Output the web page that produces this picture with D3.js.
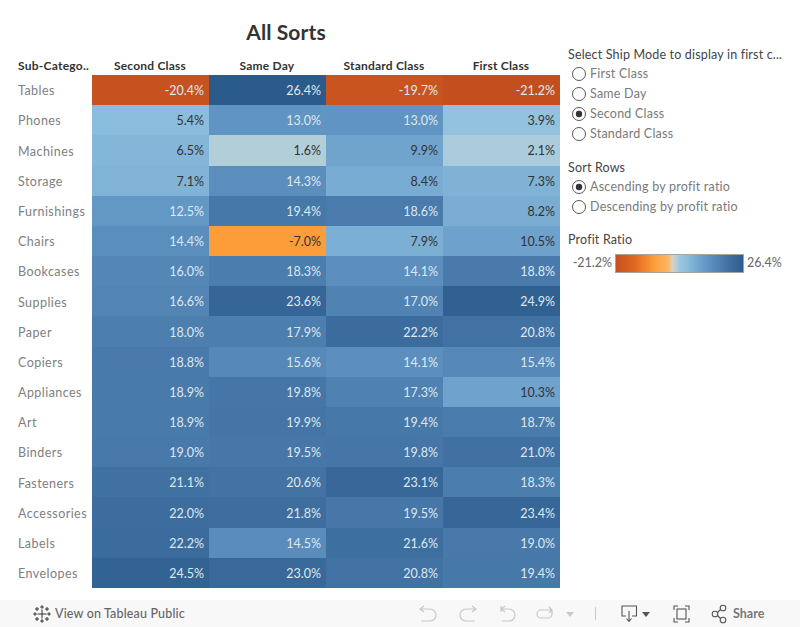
<!DOCTYPE html>
<html><head><meta charset="utf-8">
<script src="https://cdn.jsdelivr.net/npm/d3@7"></script>
<style>html,body{margin:0;padding:0;background:#fff;overflow:hidden}svg{display:block}text{font-family:Lato,"Open Sans",sans-serif}</style>
</head><body><svg id="c" width="800" height="627"></svg>
<script>
const title = "All Sorts";
const rowHeader = "Sub-Catego..";
const categories = ["Tables","Phones","Machines","Storage","Furnishings","Chairs","Bookcases","Supplies","Paper","Copiers","Appliances","Art","Binders","Fasteners","Accessories","Labels","Envelopes"];
const shipModes = ["Second Class","Same Day","Standard Class","First Class"];
const secondClass = [-20.4,5.4,6.5,7.1,12.5,14.4,16.0,16.6,18.0,18.8,18.9,18.9,19.0,21.1,22.0,22.2,24.5];
const sameDay = [26.4,13.0,1.6,14.3,19.4,-7.0,18.3,23.6,17.9,15.6,19.8,19.9,19.5,20.6,21.8,14.5,23.0];
const standardClass = [-19.7,13.0,9.9,8.4,18.6,7.9,14.1,17.0,22.2,14.1,17.3,19.4,19.8,23.1,19.5,21.6,20.8];
const firstClass = [-21.2,3.9,2.1,7.3,8.2,10.5,18.8,24.9,20.8,15.4,10.3,18.7,21.0,18.3,23.4,19.0,19.4];
const seriesValues = [secondClass,sameDay,standardClass,firstClass];
const colorDomain = [-21.2,-14,-7,-1.5,0,1.6,3,5.4,13,20,26.4];
const colorRange = ["#c34f1f","#e0681f","#fd9d3a","#fbb766","#d8d2c4","#b2ced9","#98c5df","#8abcdd","#6094c2","#4475a6","#2a5b8b"];
const shipOptions = ["First Class","Same Day","Second Class","Standard Class"];
const shipSelected = "Second Class";
const sortOptions = ["Ascending by profit ratio","Descending by profit ratio"];
const sortSelected = "Ascending by profit ratio";
const legendExtent = [-21.2,26.4];

const svg = d3.select("#c");
const x = d3.scaleBand().domain(shipModes).range([92,560]);
const y = d3.scaleBand().domain(categories).range([75,588]);
const color = d3.scaleLinear().domain(colorDomain).range(colorRange).interpolate(d3.interpolateRgb);
const fmt = v => v.toFixed(1) + "%";

svg.append("text").attr("x",286).attr("y",40).attr("text-anchor","middle")
  .attr("font-size",21).attr("font-weight",700).attr("letter-spacing",0.1).attr("fill","#333").text(title);
svg.append("text").attr("x",18).attr("y",70).attr("font-size",12).attr("font-weight",700).attr("letter-spacing",0.25).attr("fill","#333").text(rowHeader);

svg.selectAll(".h").data(shipModes).join("text").attr("class","h")
  .attr("x",d=>x(d)+x.bandwidth()/2-0.5).attr("y",70).attr("text-anchor","middle")
  .attr("font-size",12).attr("font-weight",700).attr("letter-spacing",0.2).attr("fill","#333").text(d=>d);
svg.selectAll(".r").data(categories).join("text").attr("class","r")
  .attr("x",18).attr("y",d=>y(d)+y.bandwidth()/2+5.2).attr("font-size",12.5).attr("letter-spacing",0.45).attr("fill","#808080").text(d=>d);

const cells = shipModes.flatMap((m,i)=>categories.map((c,j)=>({m,c,v:seriesValues[i][j]})));
svg.selectAll(".cell").data(cells).join("rect").attr("class","cell")
  .attr("x",d=>x(d.m)).attr("y",d=>y(d.c)).attr("width",x.bandwidth()).attr("height",y.bandwidth())
  .attr("fill",d=>color(d.v)).attr("shape-rendering","crispEdges");
svg.selectAll(".val").data(cells).join("text").attr("class","val")
  .attr("x",d=>x(d.m)+x.bandwidth()-5).attr("y",d=>y(d.c)+y.bandwidth()/2+5).attr("text-anchor","end")
  .attr("font-size",12.5).attr("fill",d=>(d.v>=12||d.v<-10)?"#dfe8f1":"#333").text(d=>fmt(d.v));

function radios(opts,sel,y0,step){
  const g = svg.append("g");
  opts.forEach((o,i)=>{
    const yy=y0+i*step;
    g.append("circle").attr("cx",579).attr("cy",yy).attr("r",6.5).attr("fill","#fff").attr("stroke","#444").attr("stroke-width",0.9);
    if(o===sel) g.append("circle").attr("cx",579).attr("cy",yy).attr("r",3.2).attr("fill","#333");
    g.append("text").attr("x",590).attr("y",yy+4.3).attr("font-size",12.5).attr("letter-spacing",0.22).attr("fill","#7a7a7a").text(o);
  });
}
const lab=(t,yy)=>svg.append("text").attr("x",568).attr("y",yy).attr("font-size",12.5).attr("letter-spacing",0.17).attr("fill","#444").text(t);
lab("Select Ship Mode to display in first c...",58.5);
radios(shipOptions,shipSelected,74,20);
lab("Sort Rows",171.5);
radios(sortOptions,sortSelected,187,20);
lab("Profit Ratio",243.5);

const lx = d3.scaleLinear().domain(legendExtent).range([616,743]);
const defs = svg.append("defs");
const grad = defs.append("linearGradient").attr("id","lg");
grad.selectAll("stop").data(colorDomain).join("stop")
  .attr("offset",d=>(lx(d)-616)/127).attr("stop-color",d=>color(d));
svg.append("rect").attr("x",615.5).attr("y",254.5).attr("width",128).attr("height",18)
  .attr("fill","url(#lg)").attr("stroke","#aaa39a");
svg.append("text").attr("x",612).attr("y",267).attr("text-anchor","end").attr("font-size",12.5).attr("fill","#666").text(fmt(legendExtent[0]));
svg.append("text").attr("x",747).attr("y",267).attr("font-size",12.5).attr("fill","#666").text(fmt(legendExtent[1]));

// toolbar
svg.append("rect").attr("x",0).attr("y",600).attr("width",800).attr("height",27).attr("fill","#f8f8f8");
const logo = svg.append("g").attr("stroke","#333").attr("stroke-width",1).attr("fill","none");
[[42,614,4.5],[37,609,2],[47,609,2],[37,619,2],[47,619,2],[35,614,1.8],[49,614,1.8],[42,607,1.8],[42,621,1.8]].forEach(([a,b,r])=>{
  logo.append("path").attr("d",`M${a-r},${b}H${a+r}M${a},${b-r}V${b+r}`);
});
svg.append("text").attr("x",55).attr("y",618).attr("font-size",12.5).attr("font-weight",500).attr("letter-spacing",0.15).attr("fill","#666").text("View on Tableau Public");
const tb = svg.append("g").attr("fill","none").attr("stroke","#c8c8c8").attr("stroke-width",1.2);
tb.append("path").attr("d","M421,609H430A6,6 0 0 1 430,621H421M424,606L420,609L424,612");
tb.append("path").attr("d","M475,609H466A6,6 0 0 0 466,621H475M472,606L476,609L472,612");
tb.append("path").attr("d","M501,606V612M502,609H509A6,6 0 0 1 509,621H502M505,606L501,609L505,612");
tb.append("path").attr("d","M552,610H541A4,4 0 0 0 541,618H548A4,4 0 0 0 552,614V610M549,607L552,610L549,613");
svg.append("path").attr("d","M566,612H574L570,617Z").attr("fill","#c8c8c8");
svg.append("path").attr("d","M595.5,607V620").attr("stroke","#c8c8c8").attr("stroke-width",1);
const dk = svg.append("g").attr("fill","none").attr("stroke","#555").attr("stroke-width",1.1);
dk.append("path").attr("d","M626,616H622V606H636.5V616H632M629,611V621M626.5,618.5L629,621.5L631.5,618.5");
svg.append("path").attr("d","M642,612H650L646,617Z").attr("fill","#555");
dk.append("path").attr("d","M674,610V606H678M685,606H689V610M689,618V622H685M678,622H674V618");
dk.append("rect").attr("x",677).attr("y",609).attr("width",9).attr("height",10);
dk.append("circle").attr("cx",715).attr("cy",614).attr("r",2.8);
dk.append("circle").attr("cx",723).attr("cy",608).attr("r",2.8);
dk.append("circle").attr("cx",723).attr("cy",620).attr("r",2.8);
dk.append("path").attr("d","M717.5,612.5L720.5,609.5M717.5,615.5L720.5,618.5");
svg.append("text").attr("x",733).attr("y",618).attr("font-size",12.5).attr("font-weight",700).attr("fill","#777").text("Share");
</script></body></html>
